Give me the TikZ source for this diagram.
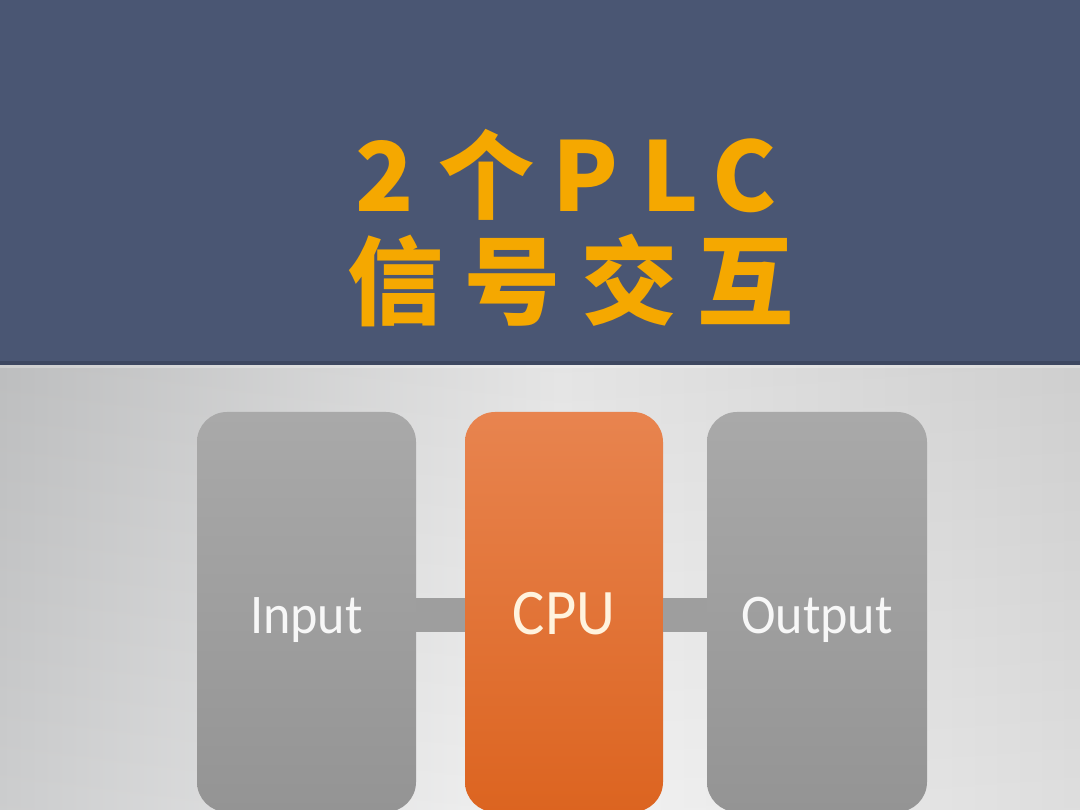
\documentclass[tikz,border=0pt]{standalone}
\usepackage{fontspec}
\newfontfamily\cjk{Noto Sans CJK SC}
\newfontfamily\lblfont[FakeStretch=0.93]{Carlito}
\definecolor{band}{HTML}{4A5673}
\definecolor{bandedge}{HTML}{3D4760}
\definecolor{titlec}{HTML}{F5A800}
\definecolor{bgleft}{HTML}{C9CACB}
\definecolor{bgmid}{HTML}{F3F3F3}
\definecolor{bgright}{HTML}{DADADA}
\definecolor{graytop}{HTML}{A9A9A9}
\definecolor{graybot}{HTML}{949494}
\definecolor{orgtop}{HTML}{E8844F}
\definecolor{orgbot}{HTML}{DC6420}
\definecolor{barc}{HTML}{9E9E9E}
\definecolor{lblw}{HTML}{F7F7F7}
\definecolor{lblc}{HTML}{FFF3DE}
\begin{document}
\begin{tikzpicture}[x=1pt,y=-1pt,
  titlestyle/.style={inner sep=0pt, outer sep=0pt, text=titlec,
    font=\cjk\bfseries\fontsize{96}{96}\selectfont},
  boxbase/.style={rounded corners=30pt, draw=none, inner sep=0pt,
    minimum height=400pt},
  graybox/.style={boxbase, top color=graytop, bottom color=graybot},
  orangebox/.style={boxbase, top color=orgtop, bottom color=orgbot},
  bar/.style={draw=barc, line width=34pt},
  lbl/.style={anchor=base, inner sep=0pt, text=lblw,
    font=\lblfont\fontsize{56}{60}\selectfont},
  cpulbl/.style={lbl, text=lblc, font=\lblfont\fontsize{65}{70}\selectfont}]
\useasboundingbox (0,0) rectangle (1080,810);
\clip (0,0) rectangle (1080,810);
% background of lower area
\begin{scope}
  \clip (0,365) rectangle (1080,810);
  \shade[left color=bgleft, right color=bgright, middle color=bgmid]
    (0,365) rectangle (1120,810);
  \shade[top color=black, bottom color=white, opacity=0.06]
    (0,365) rectangle (1080,810);
\end{scope}
% top band
\fill[band] (0,0) rectangle (1080,362);
\fill[bandedge] (0,361) rectangle (1080,365);
\fill[white, opacity=0.25] (0,365) rectangle (1080,368);
% title
\node[titlestyle, anchor=base west] (t1) at (335,212)
  {\makebox[100pt]{2}\makebox[103.5pt]{个}\makebox[93.5pt]{P}\makebox[76.5pt]{L}\makebox[73pt]{C}};
\node[titlestyle, anchor=base west] (t2) at (337.5,318)
  {\makebox[116.5pt]{信}\makebox[117pt]{号}\makebox[117pt]{交}\makebox[116pt]{互}};
% boxes
\node[graybox, minimum width=219pt] (in) at (306.5,612) {};
\node[orangebox, minimum width=198pt] (cpu) at (564,612) {};
\node[graybox, minimum width=220pt] (out) at (817,612) {};
% connectors
\draw[bar] ([yshift=-3pt]in.east) -- ([yshift=-3pt]cpu.west);
\draw[bar] ([yshift=-3pt]cpu.east) -- ([yshift=-3pt]out.west);
% labels
\coordinate (base) at (0,633);
\coordinate (cbase) at (0,634);
\node[lbl] (inl) at (in.center |- base) {Input};
\node[cpulbl] (cpul) at (cpu.center |- cbase) {CPU};
\node[lbl] (outl) at (out.center |- base) {Output};
\end{tikzpicture}
\end{document}
